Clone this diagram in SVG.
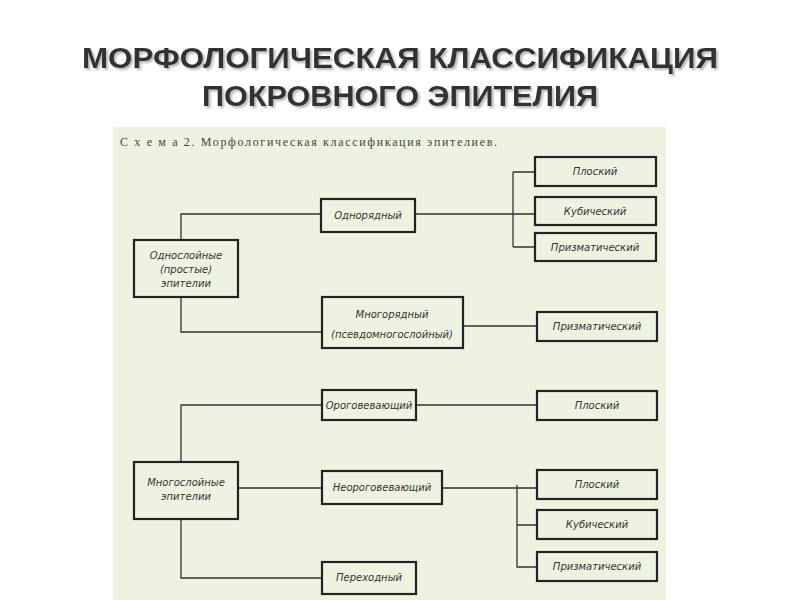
<svg xmlns="http://www.w3.org/2000/svg" width="800" height="600" viewBox="0 0 800 600">
<defs><filter id="sh" x="-5%" y="-20%" width="110%" height="150%"><feDropShadow dx="2" dy="2" stdDeviation="1" flood-color="#999" flood-opacity="0.7"/></filter></defs>
<style>
.t{font-family:"Liberation Sans",Arial,sans-serif;font-weight:bold;font-size:29px;fill:#333;text-anchor:middle}
.b rect{fill:none;stroke:#222;stroke-width:2.2}
.b text{font-family:"DejaVu Sans",sans-serif;font-style:italic;font-size:10px;fill:#333;text-anchor:middle}
#conn path{fill:none;stroke:#333;stroke-width:1.3}
</style>
<rect width="800" height="600" fill="#fff"/>
<g filter="url(#sh)">
<text class="t" x="400" y="68" textLength="636" lengthAdjust="spacingAndGlyphs">МОРФОЛОГИЧЕСКАЯ КЛАССИФИКАЦИЯ</text>
<text class="t" x="400" y="106" textLength="396" lengthAdjust="spacingAndGlyphs">ПОКРОВНОГО ЭПИТЕЛИЯ</text>
</g>
<rect x="113" y="127" width="553" height="473" fill="#eef3e1"/>
<text x="120" y="146" font-family="Liberation Serif,serif" font-size="12" fill="#444" textLength="377" lengthAdjust="spacing">С х е м а  2. Морфологическая классификация эпителиев.</text>
<g id="conn">
<path d="M181 240V214H321M415 214H535M513 172V247M513 172H535M513 247H535"/>
<path d="M181 297V332H322M463 326H537"/>
<path d="M181 462V405H322M416 405H537M238 488H322M442 488H537M517 485V567H537M517 525H537M181 519V578H322"/>
</g>
<g id="n1" class="b"><rect x="134" y="240" width="104" height="57"/><text x="186" y="259">Однослойные</text><text x="186" y="273">(простые)</text><text x="186" y="287">эпителии</text></g>
<g id="n2" class="b"><rect x="321" y="199" width="94" height="33"/><text x="368" y="219">Однорядный</text></g>
<g id="n3" class="b"><rect x="535" y="157" width="121" height="29"/><text x="595" y="175">Плоский</text></g>
<g id="n4" class="b"><rect x="535" y="197" width="121" height="28"/><text x="595" y="215">Кубический</text></g>
<g id="n5" class="b"><rect x="535" y="233" width="121" height="28"/><text x="595" y="251">Призматический</text></g>
<g id="n6" class="b"><rect x="322" y="297" width="141" height="51"/><text x="392" y="318">Многорядный</text><text x="392" y="338">(псевдомногослойный)</text></g>
<g id="n7" class="b"><rect x="537" y="312" width="120" height="29"/><text x="597" y="330">Призматический</text></g>
<g id="n8" class="b"><rect x="134" y="462" width="104" height="57"/><text x="186" y="486">Многослойные</text><text x="186" y="500">эпителии</text></g>
<g id="n9" class="b"><rect x="322" y="390" width="94" height="30"/><text x="369" y="409">Ороговевающий</text></g>
<g id="n10" class="b"><rect x="537" y="391" width="120" height="29"/><text x="597" y="409">Плоский</text></g>
<g id="n11" class="b"><rect x="322" y="471" width="120" height="33"/><text x="382" y="491">Неороговевающий</text></g>
<g id="n12" class="b"><rect x="537" y="470" width="120" height="29"/><text x="597" y="488">Плоский</text></g>
<g id="n13" class="b"><rect x="537" y="510" width="120" height="29"/><text x="597" y="528">Кубический</text></g>
<g id="n14" class="b"><rect x="537" y="552" width="120" height="29"/><text x="597" y="570">Призматический</text></g>
<g id="n15" class="b"><rect x="322" y="562" width="94" height="32"/><text x="369" y="581">Переходный</text></g>
</svg>
